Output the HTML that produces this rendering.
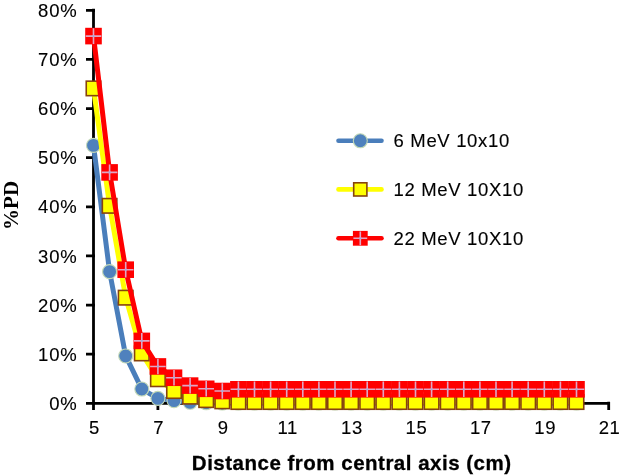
<!DOCTYPE html>
<html><head><meta charset="utf-8"><style>
html,body{margin:0;padding:0;background:#fff;}
svg{display:block;}
.t{font-family:"Liberation Sans",Arial,sans-serif;font-size:18.5px;fill:#000;stroke:#000;stroke-width:0.12px;}
.ty{letter-spacing:0.8px;}
.tx{letter-spacing:0.6px;}
.tl{letter-spacing:0.66px;}
.xt{font-family:"Liberation Sans",Arial,sans-serif;font-size:20.5px;font-weight:bold;fill:#000;stroke:#000;stroke-width:0.3px;letter-spacing:0.5px;}
.yt{font-family:"Liberation Serif","Times New Roman",serif;font-size:21px;font-weight:bold;fill:#000;}
</style></head><body>
<svg width="620" height="475" viewBox="0 0 620 475">
<rect width="620" height="475" fill="#fff"/>
<path d="M93.5,8.80V410 M86,403.30H610 M86,403.30H95M86,354.18H95M86,305.05H95M86,255.93H95M86,206.80H95M86,157.68H95M86,108.55H95M86,59.43H95M86,10.30H95 M93.50,401.8V410M157.90,401.8V410M222.30,401.8V410M286.70,401.8V410M351.10,401.8V410M415.50,401.8V410M479.90,401.8V410M544.30,401.8V410M608.70,401.8V410" stroke="#000" stroke-width="2.8" fill="none"/>
<path d="M93.50,145.39 L109.60,271.64 L125.70,355.94 L141.80,389.05 L157.90,398.39 L174.00,400.60 L190.10,402.32 L206.20,402.81 L222.30,403.05 L238.40,403.05 L254.50,403.05 L270.60,403.05 L286.70,403.05 L302.80,403.05 L318.90,403.05 L335.00,403.05 L351.10,403.05 L367.20,403.05 L383.30,403.05 L399.40,403.05 L415.50,403.05 L431.60,403.05 L447.70,403.05 L463.80,403.05 L479.90,403.05 L496.00,403.05 L512.10,403.05 L528.20,403.05 L544.30,403.05 L560.40,403.05 L576.50,403.05" stroke="#4a7ebb" stroke-width="5.0" fill="none" stroke-linejoin="round" stroke-linecap="round"/>
<circle cx="93.50" cy="145.39" r="7.00" fill="#4f81bd" stroke="#c2d8b6" stroke-width="1.1"/>
<circle cx="109.60" cy="271.64" r="7.00" fill="#4f81bd" stroke="#c2d8b6" stroke-width="1.1"/>
<circle cx="125.70" cy="355.94" r="7.00" fill="#4f81bd" stroke="#c2d8b6" stroke-width="1.1"/>
<circle cx="141.80" cy="389.05" r="7.00" fill="#4f81bd" stroke="#c2d8b6" stroke-width="1.1"/>
<circle cx="157.90" cy="398.39" r="7.00" fill="#4f81bd" stroke="#c2d8b6" stroke-width="1.1"/>
<circle cx="174.00" cy="400.60" r="7.00" fill="#4f81bd" stroke="#c2d8b6" stroke-width="1.1"/>
<circle cx="190.10" cy="402.32" r="7.00" fill="#4f81bd" stroke="#c2d8b6" stroke-width="1.1"/>
<circle cx="206.20" cy="402.81" r="7.00" fill="#4f81bd" stroke="#c2d8b6" stroke-width="1.1"/>
<circle cx="222.30" cy="403.05" r="7.00" fill="#4f81bd" stroke="#c2d8b6" stroke-width="1.1"/>
<circle cx="238.40" cy="403.05" r="7.00" fill="#4f81bd" stroke="#c2d8b6" stroke-width="1.1"/>
<circle cx="254.50" cy="403.05" r="7.00" fill="#4f81bd" stroke="#c2d8b6" stroke-width="1.1"/>
<circle cx="270.60" cy="403.05" r="7.00" fill="#4f81bd" stroke="#c2d8b6" stroke-width="1.1"/>
<circle cx="286.70" cy="403.05" r="7.00" fill="#4f81bd" stroke="#c2d8b6" stroke-width="1.1"/>
<circle cx="302.80" cy="403.05" r="7.00" fill="#4f81bd" stroke="#c2d8b6" stroke-width="1.1"/>
<circle cx="318.90" cy="403.05" r="7.00" fill="#4f81bd" stroke="#c2d8b6" stroke-width="1.1"/>
<circle cx="335.00" cy="403.05" r="7.00" fill="#4f81bd" stroke="#c2d8b6" stroke-width="1.1"/>
<circle cx="351.10" cy="403.05" r="7.00" fill="#4f81bd" stroke="#c2d8b6" stroke-width="1.1"/>
<circle cx="367.20" cy="403.05" r="7.00" fill="#4f81bd" stroke="#c2d8b6" stroke-width="1.1"/>
<circle cx="383.30" cy="403.05" r="7.00" fill="#4f81bd" stroke="#c2d8b6" stroke-width="1.1"/>
<circle cx="399.40" cy="403.05" r="7.00" fill="#4f81bd" stroke="#c2d8b6" stroke-width="1.1"/>
<circle cx="415.50" cy="403.05" r="7.00" fill="#4f81bd" stroke="#c2d8b6" stroke-width="1.1"/>
<circle cx="431.60" cy="403.05" r="7.00" fill="#4f81bd" stroke="#c2d8b6" stroke-width="1.1"/>
<circle cx="447.70" cy="403.05" r="7.00" fill="#4f81bd" stroke="#c2d8b6" stroke-width="1.1"/>
<circle cx="463.80" cy="403.05" r="7.00" fill="#4f81bd" stroke="#c2d8b6" stroke-width="1.1"/>
<circle cx="479.90" cy="403.05" r="7.00" fill="#4f81bd" stroke="#c2d8b6" stroke-width="1.1"/>
<circle cx="496.00" cy="403.05" r="7.00" fill="#4f81bd" stroke="#c2d8b6" stroke-width="1.1"/>
<circle cx="512.10" cy="403.05" r="7.00" fill="#4f81bd" stroke="#c2d8b6" stroke-width="1.1"/>
<circle cx="528.20" cy="403.05" r="7.00" fill="#4f81bd" stroke="#c2d8b6" stroke-width="1.1"/>
<circle cx="544.30" cy="403.05" r="7.00" fill="#4f81bd" stroke="#c2d8b6" stroke-width="1.1"/>
<circle cx="560.40" cy="403.05" r="7.00" fill="#4f81bd" stroke="#c2d8b6" stroke-width="1.1"/>
<circle cx="576.50" cy="403.05" r="7.00" fill="#4f81bd" stroke="#c2d8b6" stroke-width="1.1"/>
<path d="M93.50,88.41 L109.60,205.82 L125.70,297.68 L141.80,353.44 L157.90,379.23 L174.00,391.02 L190.10,396.67 L206.20,400.11 L222.30,401.34 L238.40,402.02 L254.50,402.02 L270.60,402.02 L286.70,402.02 L302.80,402.02 L318.90,402.02 L335.00,402.02 L351.10,402.02 L367.20,402.02 L383.30,402.02 L399.40,402.02 L415.50,402.02 L431.60,402.02 L447.70,402.02 L463.80,402.02 L479.90,402.02 L496.00,402.02 L512.10,402.02 L528.20,402.02 L544.30,402.02 L560.40,402.02 L576.50,402.02" stroke="#ffff00" stroke-width="5.0" fill="none" stroke-linejoin="round" stroke-linecap="round"/>
<rect x="86.25" y="81.16" width="14.5" height="14.5" fill="#ffff00" stroke="#86430e" stroke-width="1.6"/>
<rect x="102.35" y="198.57" width="14.5" height="14.5" fill="#ffff00" stroke="#86430e" stroke-width="1.6"/>
<rect x="118.45" y="290.43" width="14.5" height="14.5" fill="#ffff00" stroke="#86430e" stroke-width="1.6"/>
<rect x="134.55" y="346.19" width="14.5" height="14.5" fill="#ffff00" stroke="#86430e" stroke-width="1.6"/>
<rect x="150.65" y="371.98" width="14.5" height="14.5" fill="#ffff00" stroke="#86430e" stroke-width="1.6"/>
<rect x="166.75" y="383.77" width="14.5" height="14.5" fill="#ffff00" stroke="#86430e" stroke-width="1.6"/>
<rect x="182.85" y="389.42" width="14.5" height="14.5" fill="#ffff00" stroke="#86430e" stroke-width="1.6"/>
<rect x="198.95" y="392.86" width="14.5" height="14.5" fill="#ffff00" stroke="#86430e" stroke-width="1.6"/>
<rect x="215.05" y="394.09" width="14.5" height="14.5" fill="#ffff00" stroke="#86430e" stroke-width="1.6"/>
<rect x="231.15" y="394.77" width="14.5" height="14.5" fill="#ffff00" stroke="#86430e" stroke-width="1.6"/>
<rect x="247.25" y="394.77" width="14.5" height="14.5" fill="#ffff00" stroke="#86430e" stroke-width="1.6"/>
<rect x="263.35" y="394.77" width="14.5" height="14.5" fill="#ffff00" stroke="#86430e" stroke-width="1.6"/>
<rect x="279.45" y="394.77" width="14.5" height="14.5" fill="#ffff00" stroke="#86430e" stroke-width="1.6"/>
<rect x="295.55" y="394.77" width="14.5" height="14.5" fill="#ffff00" stroke="#86430e" stroke-width="1.6"/>
<rect x="311.65" y="394.77" width="14.5" height="14.5" fill="#ffff00" stroke="#86430e" stroke-width="1.6"/>
<rect x="327.75" y="394.77" width="14.5" height="14.5" fill="#ffff00" stroke="#86430e" stroke-width="1.6"/>
<rect x="343.85" y="394.77" width="14.5" height="14.5" fill="#ffff00" stroke="#86430e" stroke-width="1.6"/>
<rect x="359.95" y="394.77" width="14.5" height="14.5" fill="#ffff00" stroke="#86430e" stroke-width="1.6"/>
<rect x="376.05" y="394.77" width="14.5" height="14.5" fill="#ffff00" stroke="#86430e" stroke-width="1.6"/>
<rect x="392.15" y="394.77" width="14.5" height="14.5" fill="#ffff00" stroke="#86430e" stroke-width="1.6"/>
<rect x="408.25" y="394.77" width="14.5" height="14.5" fill="#ffff00" stroke="#86430e" stroke-width="1.6"/>
<rect x="424.35" y="394.77" width="14.5" height="14.5" fill="#ffff00" stroke="#86430e" stroke-width="1.6"/>
<rect x="440.45" y="394.77" width="14.5" height="14.5" fill="#ffff00" stroke="#86430e" stroke-width="1.6"/>
<rect x="456.55" y="394.77" width="14.5" height="14.5" fill="#ffff00" stroke="#86430e" stroke-width="1.6"/>
<rect x="472.65" y="394.77" width="14.5" height="14.5" fill="#ffff00" stroke="#86430e" stroke-width="1.6"/>
<rect x="488.75" y="394.77" width="14.5" height="14.5" fill="#ffff00" stroke="#86430e" stroke-width="1.6"/>
<rect x="504.85" y="394.77" width="14.5" height="14.5" fill="#ffff00" stroke="#86430e" stroke-width="1.6"/>
<rect x="520.95" y="394.77" width="14.5" height="14.5" fill="#ffff00" stroke="#86430e" stroke-width="1.6"/>
<rect x="537.05" y="394.77" width="14.5" height="14.5" fill="#ffff00" stroke="#86430e" stroke-width="1.6"/>
<rect x="553.15" y="394.77" width="14.5" height="14.5" fill="#ffff00" stroke="#86430e" stroke-width="1.6"/>
<rect x="569.25" y="394.77" width="14.5" height="14.5" fill="#ffff00" stroke="#86430e" stroke-width="1.6"/>
<path d="M93.50,36.09 L109.60,172.41 L125.70,269.68 L141.80,340.91 L157.90,366.46 L174.00,377.75 L190.10,385.62 L206.20,388.81 L222.30,391.02 L238.40,389.30 L254.50,389.30 L270.60,389.30 L286.70,389.30 L302.80,389.30 L318.90,389.30 L335.00,389.30 L351.10,389.30 L367.20,389.30 L383.30,389.30 L399.40,389.30 L415.50,389.30 L431.60,389.30 L447.70,389.30 L463.80,389.30 L479.90,389.30 L496.00,389.30 L512.10,389.30 L528.20,389.30 L544.30,389.30 L560.40,389.30 L576.50,389.30" stroke="#ff0000" stroke-width="5.0" fill="none" stroke-linejoin="round" stroke-linecap="round"/>
<rect x="85.20" y="27.79" width="16.60" height="16.60" fill="#ff0000"/><path d="M85.70,36.09H101.30M93.50,28.29V43.89" stroke="#e0a6c4" stroke-width="1.6" fill="none"/><rect x="92.50" y="35.09" width="2" height="2" fill="#a8aadc"/>
<rect x="101.30" y="164.11" width="16.60" height="16.60" fill="#ff0000"/><path d="M101.80,172.41H117.40M109.60,164.61V180.21" stroke="#e0a6c4" stroke-width="1.6" fill="none"/><rect x="108.60" y="171.41" width="2" height="2" fill="#a8aadc"/>
<rect x="117.40" y="261.38" width="16.60" height="16.60" fill="#ff0000"/><path d="M117.90,269.68H133.50M125.70,261.88V277.48" stroke="#e0a6c4" stroke-width="1.6" fill="none"/><rect x="124.70" y="268.68" width="2" height="2" fill="#a8aadc"/>
<rect x="133.50" y="332.61" width="16.60" height="16.60" fill="#ff0000"/><path d="M134.00,340.91H149.60M141.80,333.11V348.71" stroke="#e0a6c4" stroke-width="1.6" fill="none"/><rect x="140.80" y="339.91" width="2" height="2" fill="#a8aadc"/>
<rect x="149.60" y="358.16" width="16.60" height="16.60" fill="#ff0000"/><path d="M150.10,366.46H165.70M157.90,358.66V374.26" stroke="#e0a6c4" stroke-width="1.6" fill="none"/><rect x="156.90" y="365.46" width="2" height="2" fill="#a8aadc"/>
<rect x="165.70" y="369.45" width="16.60" height="16.60" fill="#ff0000"/><path d="M166.20,377.75H181.80M174.00,369.95V385.56" stroke="#e0a6c4" stroke-width="1.6" fill="none"/><rect x="173.00" y="376.75" width="2" height="2" fill="#a8aadc"/>
<rect x="181.80" y="377.31" width="16.60" height="16.60" fill="#ff0000"/><path d="M182.30,385.62H197.90M190.10,377.81V393.42" stroke="#e0a6c4" stroke-width="1.6" fill="none"/><rect x="189.10" y="384.62" width="2" height="2" fill="#a8aadc"/>
<rect x="197.90" y="380.51" width="16.60" height="16.60" fill="#ff0000"/><path d="M198.40,388.81H214.00M206.20,381.01V396.61" stroke="#e0a6c4" stroke-width="1.6" fill="none"/><rect x="205.20" y="387.81" width="2" height="2" fill="#a8aadc"/>
<rect x="214.00" y="382.72" width="16.60" height="16.60" fill="#ff0000"/><path d="M214.50,391.02H230.10M222.30,383.22V398.82" stroke="#e0a6c4" stroke-width="1.6" fill="none"/><rect x="221.30" y="390.02" width="2" height="2" fill="#a8aadc"/>
<rect x="230.10" y="381.00" width="16.60" height="16.60" fill="#ff0000"/><path d="M230.60,389.30H246.20M238.40,381.50V397.10" stroke="#e0a6c4" stroke-width="1.6" fill="none"/><rect x="237.40" y="388.30" width="2" height="2" fill="#a8aadc"/>
<rect x="246.20" y="381.00" width="16.60" height="16.60" fill="#ff0000"/><path d="M246.70,389.30H262.30M254.50,381.50V397.10" stroke="#e0a6c4" stroke-width="1.6" fill="none"/><rect x="253.50" y="388.30" width="2" height="2" fill="#a8aadc"/>
<rect x="262.30" y="381.00" width="16.60" height="16.60" fill="#ff0000"/><path d="M262.80,389.30H278.40M270.60,381.50V397.10" stroke="#e0a6c4" stroke-width="1.6" fill="none"/><rect x="269.60" y="388.30" width="2" height="2" fill="#a8aadc"/>
<rect x="278.40" y="381.00" width="16.60" height="16.60" fill="#ff0000"/><path d="M278.90,389.30H294.50M286.70,381.50V397.10" stroke="#e0a6c4" stroke-width="1.6" fill="none"/><rect x="285.70" y="388.30" width="2" height="2" fill="#a8aadc"/>
<rect x="294.50" y="381.00" width="16.60" height="16.60" fill="#ff0000"/><path d="M295.00,389.30H310.60M302.80,381.50V397.10" stroke="#e0a6c4" stroke-width="1.6" fill="none"/><rect x="301.80" y="388.30" width="2" height="2" fill="#a8aadc"/>
<rect x="310.60" y="381.00" width="16.60" height="16.60" fill="#ff0000"/><path d="M311.10,389.30H326.70M318.90,381.50V397.10" stroke="#e0a6c4" stroke-width="1.6" fill="none"/><rect x="317.90" y="388.30" width="2" height="2" fill="#a8aadc"/>
<rect x="326.70" y="381.00" width="16.60" height="16.60" fill="#ff0000"/><path d="M327.20,389.30H342.80M335.00,381.50V397.10" stroke="#e0a6c4" stroke-width="1.6" fill="none"/><rect x="334.00" y="388.30" width="2" height="2" fill="#a8aadc"/>
<rect x="342.80" y="381.00" width="16.60" height="16.60" fill="#ff0000"/><path d="M343.30,389.30H358.90M351.10,381.50V397.10" stroke="#e0a6c4" stroke-width="1.6" fill="none"/><rect x="350.10" y="388.30" width="2" height="2" fill="#a8aadc"/>
<rect x="358.90" y="381.00" width="16.60" height="16.60" fill="#ff0000"/><path d="M359.40,389.30H375.00M367.20,381.50V397.10" stroke="#e0a6c4" stroke-width="1.6" fill="none"/><rect x="366.20" y="388.30" width="2" height="2" fill="#a8aadc"/>
<rect x="375.00" y="381.00" width="16.60" height="16.60" fill="#ff0000"/><path d="M375.50,389.30H391.10M383.30,381.50V397.10" stroke="#e0a6c4" stroke-width="1.6" fill="none"/><rect x="382.30" y="388.30" width="2" height="2" fill="#a8aadc"/>
<rect x="391.10" y="381.00" width="16.60" height="16.60" fill="#ff0000"/><path d="M391.60,389.30H407.20M399.40,381.50V397.10" stroke="#e0a6c4" stroke-width="1.6" fill="none"/><rect x="398.40" y="388.30" width="2" height="2" fill="#a8aadc"/>
<rect x="407.20" y="381.00" width="16.60" height="16.60" fill="#ff0000"/><path d="M407.70,389.30H423.30M415.50,381.50V397.10" stroke="#e0a6c4" stroke-width="1.6" fill="none"/><rect x="414.50" y="388.30" width="2" height="2" fill="#a8aadc"/>
<rect x="423.30" y="381.00" width="16.60" height="16.60" fill="#ff0000"/><path d="M423.80,389.30H439.40M431.60,381.50V397.10" stroke="#e0a6c4" stroke-width="1.6" fill="none"/><rect x="430.60" y="388.30" width="2" height="2" fill="#a8aadc"/>
<rect x="439.40" y="381.00" width="16.60" height="16.60" fill="#ff0000"/><path d="M439.90,389.30H455.50M447.70,381.50V397.10" stroke="#e0a6c4" stroke-width="1.6" fill="none"/><rect x="446.70" y="388.30" width="2" height="2" fill="#a8aadc"/>
<rect x="455.50" y="381.00" width="16.60" height="16.60" fill="#ff0000"/><path d="M456.00,389.30H471.60M463.80,381.50V397.10" stroke="#e0a6c4" stroke-width="1.6" fill="none"/><rect x="462.80" y="388.30" width="2" height="2" fill="#a8aadc"/>
<rect x="471.60" y="381.00" width="16.60" height="16.60" fill="#ff0000"/><path d="M472.10,389.30H487.70M479.90,381.50V397.10" stroke="#e0a6c4" stroke-width="1.6" fill="none"/><rect x="478.90" y="388.30" width="2" height="2" fill="#a8aadc"/>
<rect x="487.70" y="381.00" width="16.60" height="16.60" fill="#ff0000"/><path d="M488.20,389.30H503.80M496.00,381.50V397.10" stroke="#e0a6c4" stroke-width="1.6" fill="none"/><rect x="495.00" y="388.30" width="2" height="2" fill="#a8aadc"/>
<rect x="503.80" y="381.00" width="16.60" height="16.60" fill="#ff0000"/><path d="M504.30,389.30H519.90M512.10,381.50V397.10" stroke="#e0a6c4" stroke-width="1.6" fill="none"/><rect x="511.10" y="388.30" width="2" height="2" fill="#a8aadc"/>
<rect x="519.90" y="381.00" width="16.60" height="16.60" fill="#ff0000"/><path d="M520.40,389.30H536.00M528.20,381.50V397.10" stroke="#e0a6c4" stroke-width="1.6" fill="none"/><rect x="527.20" y="388.30" width="2" height="2" fill="#a8aadc"/>
<rect x="536.00" y="381.00" width="16.60" height="16.60" fill="#ff0000"/><path d="M536.50,389.30H552.10M544.30,381.50V397.10" stroke="#e0a6c4" stroke-width="1.6" fill="none"/><rect x="543.30" y="388.30" width="2" height="2" fill="#a8aadc"/>
<rect x="552.10" y="381.00" width="16.60" height="16.60" fill="#ff0000"/><path d="M552.60,389.30H568.20M560.40,381.50V397.10" stroke="#e0a6c4" stroke-width="1.6" fill="none"/><rect x="559.40" y="388.30" width="2" height="2" fill="#a8aadc"/>
<rect x="568.20" y="381.00" width="16.60" height="16.60" fill="#ff0000"/><path d="M568.70,389.30H584.30M576.50,381.50V397.10" stroke="#e0a6c4" stroke-width="1.6" fill="none"/><rect x="575.50" y="388.30" width="2" height="2" fill="#a8aadc"/>
<text x="77.50" y="409.90" text-anchor="end" class="t ty">0%</text>
<text x="77.50" y="360.78" text-anchor="end" class="t ty">10%</text>
<text x="77.50" y="311.65" text-anchor="end" class="t ty">20%</text>
<text x="77.50" y="262.53" text-anchor="end" class="t ty">30%</text>
<text x="77.50" y="213.40" text-anchor="end" class="t ty">40%</text>
<text x="77.50" y="164.28" text-anchor="end" class="t ty">50%</text>
<text x="77.50" y="115.15" text-anchor="end" class="t ty">60%</text>
<text x="77.50" y="66.03" text-anchor="end" class="t ty">70%</text>
<text x="77.50" y="16.90" text-anchor="end" class="t ty">80%</text>
<text x="94.40" y="433.60" text-anchor="middle" class="t tx">5</text>
<text x="158.80" y="433.60" text-anchor="middle" class="t tx">7</text>
<text x="223.20" y="433.60" text-anchor="middle" class="t tx">9</text>
<text x="287.60" y="433.60" text-anchor="middle" class="t tx">11</text>
<text x="352.00" y="433.60" text-anchor="middle" class="t tx">13</text>
<text x="416.40" y="433.60" text-anchor="middle" class="t tx">15</text>
<text x="480.80" y="433.60" text-anchor="middle" class="t tx">17</text>
<text x="545.20" y="433.60" text-anchor="middle" class="t tx">19</text>
<text x="609.60" y="433.60" text-anchor="middle" class="t tx">21</text>
<path d="M338.5,140.8H381.5" stroke="#4a7ebb" stroke-width="4.6" stroke-linecap="round"/>
<circle cx="360.30" cy="140.80" r="7.00" fill="#4f81bd" stroke="#c2d8b6" stroke-width="1.1"/>
<text x="393.60" y="147.1" class="t tl">6 MeV 10x10</text>
<path d="M338.5,189.4H381.5" stroke="#ffff00" stroke-width="4.6" stroke-linecap="round"/>
<rect x="353.70" y="182.80" width="13.2" height="13.2" fill="#ffff00" stroke="#86430e" stroke-width="1.6"/>
<text x="393.60" y="196.0" class="t tl">12 MeV 10X10</text>
<path d="M338.5,238.3H381.5" stroke="#ff0000" stroke-width="4.6" stroke-linecap="round"/>
<rect x="352.90" y="230.90" width="14.80" height="14.80" fill="#ff0000"/><path d="M353.40,238.30H367.20M360.30,231.40V245.20" stroke="#e0a6c4" stroke-width="1.6" fill="none"/><rect x="359.30" y="237.30" width="2" height="2" fill="#a8aadc"/>
<text x="393.60" y="244.9" class="t tl">22 MeV 10X10</text>
<text x="351.7" y="469.6" text-anchor="middle" class="xt">Distance from central axis (cm)</text>
<text transform="translate(18.2,205.4) rotate(-90)" text-anchor="middle" class="yt">%PD</text>
</svg>
</body></html>
